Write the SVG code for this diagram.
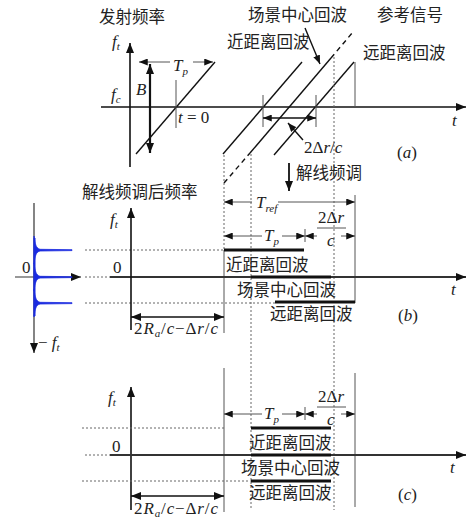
<svg xmlns="http://www.w3.org/2000/svg" width="474" height="520" viewBox="0 0 474 520">
<style>
.zh{font-family:"Liberation Serif","Noto Sans CJK SC",serif;font-size:16.5px;fill:#222}
.m{font-family:"Liberation Serif",serif;font-style:italic;font-size:17px;fill:#222}
.r{font-family:"Liberation Serif",serif;font-size:17px;fill:#222}
.sub{font-size:11px}
.ax{stroke:#111;stroke-width:1.6;fill:none}
.thin{stroke:#555;stroke-width:1;fill:none}
.blk{stroke:#111;stroke-width:1.4;fill:none}
.dot{stroke:#666;stroke-width:1;stroke-dasharray:2 2;fill:none}
.dash{stroke:#111;stroke-width:1.4;stroke-dasharray:5 4;fill:none}
.bar{stroke:#111;stroke-width:3;fill:none}
.spec{fill:#1a2be0;stroke:#1a2be0;stroke-width:0.8}
</style>
<defs>
<marker id="ah" viewBox="0 0 10 8" refX="10" refY="4" markerWidth="10" markerHeight="8" markerUnits="userSpaceOnUse" orient="auto-start-reverse">
<path d="M0,0 L10,4 L0,8 Z" fill="#111"/>
</marker>
<marker id="ahs" viewBox="0 0 10 8" refX="10" refY="4" markerWidth="9" markerHeight="7" markerUnits="userSpaceOnUse" orient="auto-start-reverse">
<path d="M0,0 L10,4 L0,8 Z" fill="#111"/>
</marker>
</defs>

<g id="connectors">
<line class="ax" x1="130" y1="167" x2="130" y2="43" marker-end="url(#ah)"/>
<line class="ax" x1="101" y1="107" x2="466" y2="107" marker-end="url(#ah)"/>
<line class="blk" x1="136" y1="154" x2="215" y2="62"/>
<line stroke="#111" stroke-width="2.2" x1="150" y1="64" x2="150" y2="153" marker-start="url(#ah)" marker-end="url(#ah)"/>
<line class="thin" x1="139" y1="62" x2="170" y2="62" marker-start="url(#ahs)"/>
<line class="thin" x1="193" y1="62" x2="213" y2="62" marker-end="url(#ahs)"/>
<line class="thin" x1="176" y1="80" x2="176" y2="128"/>
<line class="blk" x1="223" y1="154" x2="302" y2="62"/>
<line class="blk" x1="250" y1="153" x2="331" y2="58"/>
<line class="dash" x1="224" y1="183" x2="250" y2="153"/>
<line class="dash" x1="331" y1="58" x2="353" y2="32"/>
<line class="blk" x1="274" y1="155" x2="354" y2="62"/>
<line class="blk" x1="305" y1="28" x2="320" y2="64" marker-end="url(#ahs)"/>
<line class="dot" x1="224" y1="155" x2="224" y2="250"/>
<line class="dot" x1="251" y1="154" x2="251" y2="510"/>
<line class="dot" x1="334" y1="57" x2="334" y2="510"/>
<line class="thin" x1="355" y1="62" x2="355" y2="107"/>
<line class="thin" x1="263" y1="95" x2="263" y2="127"/>
<line class="thin" x1="316" y1="95" x2="316" y2="127"/>
<line class="blk" x1="263" y1="118" x2="316" y2="118" marker-start="url(#ahs)" marker-end="url(#ahs)"/>
<line class="blk" x1="303" y1="140" x2="288" y2="123" marker-end="url(#ahs)"/>
<line stroke="#111" stroke-width="1.8" x1="289" y1="163" x2="289" y2="191" marker-end="url(#ah)"/>

<line class="thin" x1="224" y1="202" x2="252" y2="202" marker-start="url(#ahs)"/>
<line class="thin" x1="278" y1="202" x2="355" y2="202" marker-end="url(#ahs)"/>
<line class="thin" x1="355" y1="195" x2="355" y2="303"/>
<line class="thin" x1="224" y1="250" x2="224" y2="333"/>
<line class="thin" x1="224" y1="236" x2="262" y2="236" marker-start="url(#ahs)"/>
<line class="thin" x1="282" y1="236" x2="305" y2="236" marker-end="url(#ahs)"/>
<line class="thin" x1="305" y1="236" x2="317" y2="236" marker-start="url(#ahs)"/>
<line class="thin" x1="341" y1="236" x2="355" y2="236" marker-end="url(#ahs)"/>
<line class="thin" x1="305" y1="229" x2="305" y2="242"/>
<line class="thin" x1="317" y1="228" x2="346" y2="228"/>
<line class="dot" x1="85" y1="250" x2="224" y2="250"/>
<line class="dot" x1="85" y1="303" x2="275" y2="303"/>
<line class="dot" x1="85" y1="277" x2="110" y2="277"/>
<line stroke="#333" stroke-width="2" x1="110" y1="277" x2="466" y2="277" marker-end="url(#ah)"/>
<line class="ax" x1="131" y1="330" x2="131" y2="208" marker-end="url(#ah)"/>
<line class="blk" x1="131" y1="317" x2="224" y2="317" marker-start="url(#ah)" marker-end="url(#ah)"/>
<line class="bar" x1="224" y1="250" x2="304" y2="250"/>
<line class="bar" x1="251" y1="277" x2="331" y2="277"/>
<line class="bar" x1="275" y1="302" x2="355" y2="302"/>

<line stroke="#333" stroke-width="1.2" x1="34" y1="203" x2="34" y2="353" marker-end="url(#ah)"/>
<line stroke="#333" stroke-width="1.2" x1="15" y1="277" x2="81" y2="277" marker-end="url(#ah)"/>

<line class="ax" x1="131" y1="510" x2="131" y2="387" marker-end="url(#ah)"/>
<line class="thin" x1="224" y1="368" x2="224" y2="512"/>
<line class="thin" x1="355" y1="373" x2="355" y2="507"/>
<line class="dot" x1="82" y1="428" x2="224" y2="428"/>
<line class="dot" x1="82" y1="481" x2="251" y2="481"/>
<line class="dot" x1="85" y1="455" x2="110" y2="455"/>
<line stroke="#333" stroke-width="2" x1="110" y1="455" x2="466" y2="455" marker-end="url(#ah)"/>
<line class="thin" x1="224" y1="414" x2="262" y2="414" marker-start="url(#ahs)"/>
<line class="thin" x1="282" y1="414" x2="305" y2="414" marker-end="url(#ahs)"/>
<line class="thin" x1="305" y1="414" x2="317" y2="414" marker-start="url(#ahs)"/>
<line class="thin" x1="341" y1="414" x2="355" y2="414" marker-end="url(#ahs)"/>
<line class="thin" x1="305" y1="407" x2="305" y2="420"/>
<line class="thin" x1="317" y1="407" x2="346" y2="407"/>
<line class="blk" x1="131" y1="496" x2="224" y2="496" marker-start="url(#ah)" marker-end="url(#ah)"/>
<line class="bar" x1="251" y1="428" x2="331" y2="428"/>
<line class="bar" x1="251" y1="455" x2="331" y2="455"/>
<line class="bar" x1="251" y1="481" x2="331" y2="481"/>
</g>

<g id="spectrum">
<path class="spec" d="M34,236 C35,244 36,248 40,249.3 L72,249.7 L72,250.6 L40,251 C36,252 35,256 34,264 Z"/>
<path class="spec" d="M34,263 C35,271 36,275 40,276.3 L72,276.7 L72,277.6 L40,278 C36,279 35,283 34,291 Z"/>
<path class="spec" d="M34,289 C35,297 36,301 40,302.3 L72,302.7 L72,303.6 L40,304 C36,305 35,309 34,317 Z"/>
<line stroke="#1a2be0" stroke-width="2" x1="34.5" y1="238" x2="34.5" y2="316"/>
</g>

<g id="labels-a">
<text class="zh" x="99" y="22.5">发射频率</text>
<text class="zh" x="248" y="21">场景中心回波</text>
<text class="zh" x="377" y="21">参考信号</text>
<text class="zh" x="227" y="48">近距离回波</text>
<text class="zh" x="363" y="59">远距离回波</text>
<text class="zh" x="296" y="179">解线频调</text>
<text class="m" x="112" y="47">f<tspan class="sub" dy="3">t</tspan></text>
<text class="m" x="111" y="100">f<tspan class="sub" dy="3">c</tspan></text>
<text class="m" x="136" y="95">B</text>
<text class="m" x="173" y="71">T<tspan class="sub" dy="4">p</tspan></text>
<text class="m" x="178" y="123">t<tspan class="r" font-style="normal"> = 0</tspan></text>
<text class="m" x="452" y="126">t</text>
<text class="r" x="304" y="153">2Δ<tspan font-style="italic">r</tspan>/<tspan font-style="italic">c</tspan></text>
<text class="r" x="397" y="158">(<tspan font-style="italic">a</tspan>)</text>
</g>

<g id="labels-b">
<text class="zh" x="82" y="198">解线频调后频率</text>
<text class="m" x="110" y="225">f<tspan class="sub" dy="3">t</tspan></text>
<text class="r" x="113" y="273">0</text>
<text class="r" x="22" y="273">0</text>
<text class="r" x="38" y="348">− <tspan font-style="italic">f</tspan><tspan class="sub" font-style="italic" dy="3">t</tspan></text>
<text class="m" x="256" y="208">T<tspan class="sub" dy="4">ref</tspan></text>
<text class="m" x="264" y="241">T<tspan class="sub" dy="4">p</tspan></text>
<text class="r" x="318" y="223">2Δ<tspan font-style="italic">r</tspan></text>
<text class="m" x="327" y="246">c</text>
<text class="zh" x="226" y="271">近距离回波</text>
<text class="zh" x="237" y="296">场景中心回波</text>
<text class="zh" x="270" y="320">远距离回波</text>
<text class="m" x="451" y="295">t</text>
<text class="r" x="398" y="321">(<tspan font-style="italic">b</tspan>)</text>
<text class="r" x="134" y="334" textLength="84" lengthAdjust="spacing">2<tspan font-style="italic">R</tspan><tspan class="sub" font-style="italic" dy="3">a</tspan><tspan dy="-3">/</tspan><tspan font-style="italic">c</tspan>−Δ<tspan font-style="italic">r</tspan>/<tspan font-style="italic">c</tspan></text>
</g>

<g id="labels-c">
<text class="m" x="108" y="403">f<tspan class="sub" dy="3">t</tspan></text>
<text class="r" x="112" y="452">0</text>
<text class="m" x="264" y="419">T<tspan class="sub" dy="4">p</tspan></text>
<text class="r" x="318" y="402">2Δ<tspan font-style="italic">r</tspan></text>
<text class="m" x="327" y="425">c</text>
<text class="zh" x="249" y="449">近距离回波</text>
<text class="zh" x="241" y="474">场景中心回波</text>
<text class="zh" x="249" y="499">远距离回波</text>
<text class="m" x="450" y="473">t</text>
<text class="r" x="398" y="500">(<tspan font-style="italic">c</tspan>)</text>
<text class="r" x="134" y="514" textLength="84" lengthAdjust="spacing">2<tspan font-style="italic">R</tspan><tspan class="sub" font-style="italic" dy="3">a</tspan><tspan dy="-3">/</tspan><tspan font-style="italic">c</tspan>−Δ<tspan font-style="italic">r</tspan>/<tspan font-style="italic">c</tspan></text>
</g>
</svg>
